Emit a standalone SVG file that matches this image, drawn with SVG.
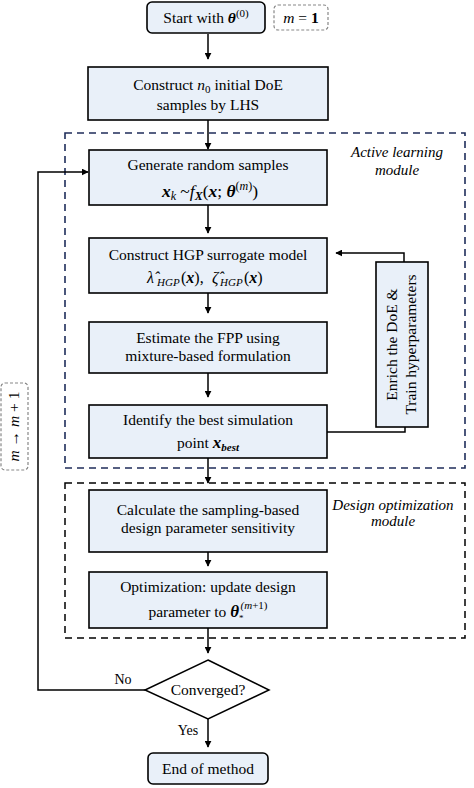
<svg xmlns="http://www.w3.org/2000/svg" width="474" height="788" viewBox="0 0 474 788">
<style>
.box{fill:#e9f0f9;stroke:#000;stroke-width:1.6}
.t{font-family:"Liberation Serif","Times New Roman",serif;font-size:15.5px;fill:#000;text-anchor:middle}
.s{font-family:"Liberation Serif","Times New Roman",serif;font-size:16px;fill:#000}
.lbl{font-family:"Liberation Serif","Times New Roman",serif;font-size:15px;font-style:italic;fill:#000;text-anchor:middle}
.m{font-style:italic;font-weight:bold}
.mi{font-style:italic}
.c{fill:none;stroke:#000;stroke-width:1.5}
</style>
<defs>
<marker id="ah" viewBox="0 0 10 10" refX="9" refY="5" markerWidth="7" markerHeight="7" markerUnits="userSpaceOnUse" orient="auto">
<path d="M0,0 L10,5 L0,10 z" fill="#000"/>
</marker>
</defs>
<rect width="474" height="788" fill="#fff"/>

<g id="modules">
<rect x="65" y="133" width="400" height="335" fill="none" stroke="#1f2d5a" stroke-width="1.6" stroke-dasharray="7,5"/>
<text class="lbl" x="397" y="157">Active learning</text>
<text class="lbl" x="397" y="175">module</text>
<rect x="65" y="483" width="400" height="155" fill="none" stroke="#000" stroke-width="1.5" stroke-dasharray="7,5"/>
<text class="lbl" x="393" y="510">Design optimization</text>
<text class="lbl" x="393" y="526">module</text>
</g>

<g id="connectors">
<line class="c" x1="208" y1="34" x2="208" y2="59" marker-end="url(#ah)"/>
<line class="c" x1="208" y1="120" x2="208" y2="149" marker-end="url(#ah)"/>
<line class="c" x1="208" y1="205" x2="208" y2="233" marker-end="url(#ah)"/>
<line class="c" x1="208" y1="293" x2="208" y2="313" marker-end="url(#ah)"/>
<line class="c" x1="208" y1="373" x2="208" y2="397" marker-end="url(#ah)"/>
<line class="c" x1="208" y1="458" x2="208" y2="483" marker-end="url(#ah)"/>
<line class="c" x1="208" y1="552" x2="208" y2="566" marker-end="url(#ah)"/>
<line class="c" x1="208" y1="628" x2="208" y2="653" marker-end="url(#ah)"/>
<line class="c" x1="208" y1="719" x2="208" y2="747" marker-end="url(#ah)"/>
<polyline class="c" points="327,432 405,432 405,427"/>
<polyline class="c" points="404,262 404,253 336,253" marker-end="url(#ah)"/>
<polyline class="c" points="145,690 38,690 38,172 88,172" marker-end="url(#ah)"/>
<text class="t" x="123" y="684" style="font-size:14px">No</text>
<text class="t" x="188" y="735" style="font-size:14px">Yes</text>
</g>

<g id="start">
<rect class="box" x="147" y="2" width="118" height="31" rx="5"/>
<text class="t" x="206" y="23">Start with <tspan class="m">θ</tspan><tspan dy="-6" font-size="11">(0)</tspan></text>
</g>
<g id="m1">
<rect x="274" y="5" width="54" height="25" rx="4" fill="none" stroke="#888" stroke-width="1.2" stroke-dasharray="3,2"/>
<text class="t" x="301" y="23"><tspan class="mi">m</tspan> = <tspan font-weight="bold">1</tspan></text>
</g>

<g id="doe">
<rect class="box" x="88" y="67" width="240" height="53"/>
<text class="t" x="208" y="90">Construct <tspan class="mi">n</tspan><tspan dy="3" font-size="11">0</tspan><tspan dy="-3"> initial DoE</tspan></text>
<text class="t" x="208" y="110">samples by LHS</text>
</g>

<g id="generate">
<rect class="box" x="89" y="150" width="238" height="55"/>
<text class="t" x="208" y="170">Generate random samples</text>
<text class="t" x="210" y="197" style="font-size:17.5px"><tspan class="m">x</tspan><tspan class="mi" dy="3" font-size="12">k</tspan><tspan dy="-3"> ~</tspan><tspan class="mi">f</tspan><tspan class="m" dy="3" font-size="12">X</tspan><tspan dy="-3">(</tspan><tspan class="m">x</tspan>; <tspan class="m">θ</tspan><tspan dy="-7" font-size="12">(</tspan><tspan class="mi" font-size="12">m</tspan><tspan font-size="12">)</tspan><tspan dy="7">)</tspan></text>
</g>

<g id="hgp">
<rect class="box" x="89" y="238" width="238" height="55"/>
<text class="t" x="208" y="260">Construct HGP surrogate model</text>
<text class="s" y="283"><tspan class="mi" x="147">λ̂</tspan><tspan class="mi" x="157" dy="3" font-size="11">HGP</tspan><tspan x="181" dy="-3">(</tspan><tspan class="m">x</tspan>),<tspan class="mi" x="212">ζ̂</tspan><tspan class="mi" x="220" dy="3" font-size="11">HGP</tspan><tspan x="244" dy="-3">(</tspan><tspan class="m">x</tspan>)</text>
</g>

<g id="fpp">
<rect class="box" x="89" y="322" width="238" height="51"/>
<text class="t" x="208" y="343">Estimate the FPP using</text>
<text class="t" x="208" y="361">mixture-based formulation</text>
</g>

<g id="identify">
<rect class="box" x="89" y="405" width="238" height="53"/>
<text class="t" x="208" y="425">Identify the best simulation</text>
<text class="t" x="208" y="448">point <tspan class="m" style="font-size:17px">x</tspan><tspan class="m" dy="3" font-size="11">best</tspan></text>
</g>

<g id="enrich">
<rect class="box" x="376" y="262" width="52" height="165"/>
<text class="t" transform="translate(397,344.5) rotate(-90)" x="0" y="0">Enrich the DoE &amp;</text>
<text class="t" transform="translate(416,344.5) rotate(-90)" x="0" y="0">Train hyperparameters</text>
</g>

<g id="sensitivity">
<rect class="box" x="89" y="490" width="238" height="62"/>
<text class="t" x="208" y="515">Calculate the sampling-based</text>
<text class="t" x="208" y="533">design parameter sensitivity</text>
</g>

<g id="optimization">
<rect class="box" x="89" y="572" width="238" height="56"/>
<text class="t" x="208" y="592">Optimization: update design</text>
<text class="t" x="208" y="617">parameter to <tspan class="m" style="font-size:17px">θ</tspan><tspan dy="4" font-size="9">*</tspan><tspan class="mi" dy="-12" dx="-3" font-size="11">(m</tspan><tspan font-size="11">+1)</tspan></text>
</g>

<g id="converged">
<polygon points="208,660 269,690 208,719 145,690" fill="#fff" stroke="#000" stroke-width="1.5"/>
<text class="t" x="208" y="695">Converged?</text>
</g>

<g id="end">
<rect class="box" x="148" y="753" width="120" height="31" rx="5"/>
<text class="t" x="208" y="774">End of method</text>
</g>

<g id="mloop">
<rect x="1" y="383" width="27" height="87" rx="4" fill="none" stroke="#888" stroke-width="1.2" stroke-dasharray="3,2"/>
<text class="t" transform="translate(19,426.5) rotate(-90)" x="0" y="0"><tspan class="mi">m</tspan> → <tspan class="mi">m</tspan> + 1</text>
</g>
</svg>
